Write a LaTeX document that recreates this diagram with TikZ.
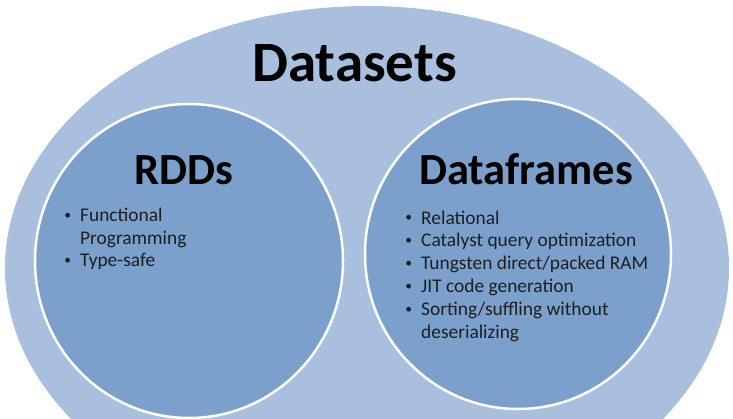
\documentclass[tikz,border=0pt]{standalone}
\usepackage{fontspec}
\setmainfont{Carlito}
\definecolor{outerblue}{HTML}{A8C0DE}
\definecolor{innerblue}{HTML}{7BA0CC}
\newcommand{\itm}{\makebox[0pt][r]{\raisebox{2pt}{\scalebox{0.7}{\textbullet}}\hspace{9pt}}}

\begin{document}
\begin{tikzpicture}[x=1pt,y=-1pt,
  outer/.style={fill=outerblue},
  inner/.style={fill=innerblue,draw=white,line width=2.5pt},
  title/.style={font=\bfseries\fontsize{57}{60}\selectfont,anchor=base,inner sep=0pt},
  head/.style={font=\bfseries\fontsize{44.5}{48}\selectfont,anchor=base,inner sep=0pt},
  items/.style={font=\fontsize{19.4}{22.8}\selectfont,align=left,anchor=base west,inner sep=0pt,text=black!88},
]
\clip (0,0) rectangle (733,419);

% Datasets (outer set)
\fill[outer] (367,268) ellipse[x radius=362,y radius=262];
\node[title] (datasets) at (354.5,82) {Datasets};

% RDDs set
\draw[inner] (189,261) ellipse[x radius=154,y radius=157];
\node[head] (rdds) at (183.5,185) {RDDs};
% base anchor = last line
\node[items] (rddlist) at (80,267)
  {\itm Functional\\Programming\\\itm Type-safe};

% Dataframes set
\draw[inner] (518,254) ellipse[x radius=153,y radius=155];
\node[head] (frames) at (526,185) {Dataframes};
\node[items] (framelist) at (421,338)
  {\itm Relational\\\itm Catalyst query optimization\\\itm Tungsten direct/packed RAM\\\itm JIT code generation\\\itm Sorting/suffling without\\deserializing};

\end{tikzpicture}
\end{document}
